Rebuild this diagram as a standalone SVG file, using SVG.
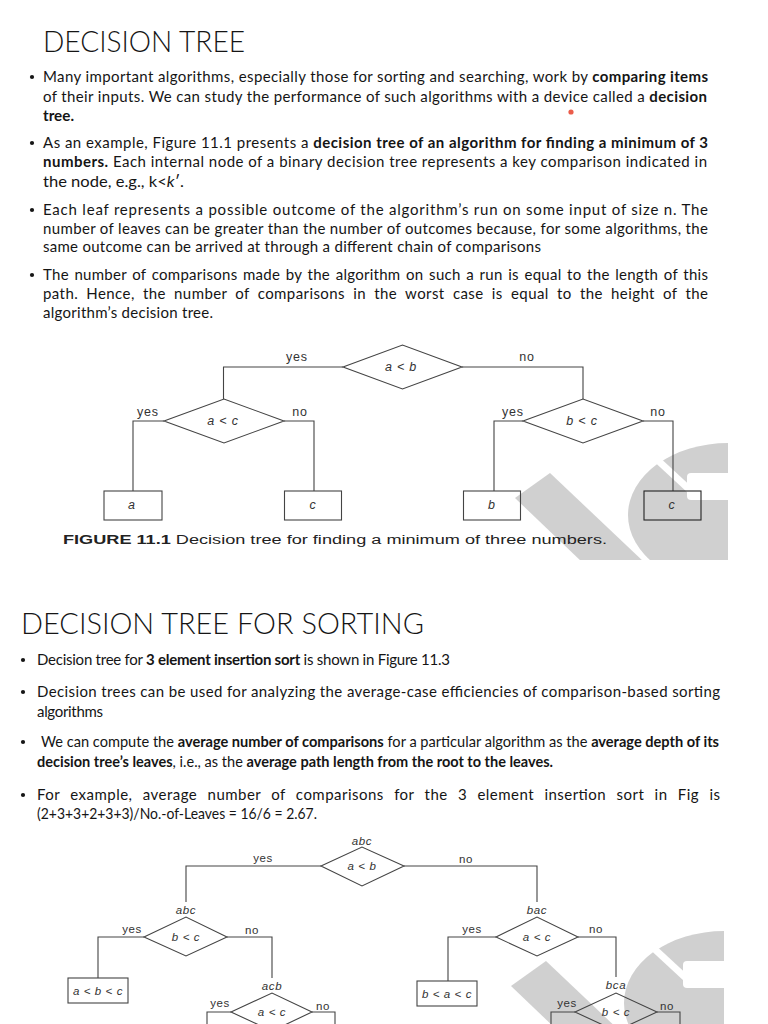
<svg xmlns="http://www.w3.org/2000/svg" width="768" height="1024" viewBox="0 0 768 1024">
<defs>
<style>
.t{font-family:Lato,"Open Sans","Liberation Sans",sans-serif;font-size:15px;fill:#151515}
.b{font-weight:700}
.h{font-family:Lato,"Open Sans","Liberation Sans",sans-serif;font-weight:300;font-size:30px;fill:#151515}
.f{font-family:"Liberation Sans",Arial,sans-serif;font-size:12.5px;fill:#333;letter-spacing:0.8px;text-anchor:middle}
.f2{font-family:"Liberation Sans",Arial,sans-serif;font-size:11.5px;fill:#333;letter-spacing:0.6px;text-anchor:middle}
.i{font-style:italic}
.ln{fill:none;stroke:#444;stroke-width:1.1}
.wm{fill:#d0d0d0}
.bul{fill:#151515}
.cap{font-family:"Liberation Sans",Arial,sans-serif;font-size:12px;fill:#222}
</style>
<clipPath id="c1"><rect x="0" y="340" width="728" height="220"/></clipPath>
<clipPath id="c2"><rect x="0" y="830" width="724" height="194"/></clipPath>
<g id="wmark">
<polygon class="wm" points="550,473 645,563 583,563 515,498"/>
<ellipse class="wm" cx="728" cy="515" rx="100" ry="72"/>
<line x1="652" y1="455" x2="692" y2="492" stroke="#fff" stroke-width="7"/>
<rect x="687" y="473" width="50" height="27" rx="4" fill="#fff"/>
</g>
</defs>
<rect width="768" height="1024" fill="#fff"/>

<!-- watermarks -->
<g clip-path="url(#c1)"><use href="#wmark"/></g>
<g clip-path="url(#c2)"><use href="#wmark" transform="translate(-4,488)"/></g>

<!-- Section 1 -->
<text class="h" x="43" y="52" textLength="202" lengthAdjust="spacingAndGlyphs">DECISION TREE</text>
<g id="text1">
<circle class="bul" cx="32" cy="77" r="2.1"/>
<text class="t" x="43" y="82" textLength="665" lengthAdjust="spacing">Many important algorithms, especially those for sorting and searching, work by <tspan class="b">comparing items</tspan></text>
<text class="t" x="43" y="102" textLength="664" lengthAdjust="spacing">of their inputs. We can study the performance of such algorithms with a device called a <tspan class="b">decision</tspan></text>
<text class="t b" x="43" y="121" textLength="31" lengthAdjust="spacingAndGlyphs">tree.</text>
<circle cx="571" cy="112" r="2.6" fill="#e8402a" opacity="0.85"/>
<circle class="bul" cx="32" cy="143" r="2.1"/>
<text class="t" x="43" y="148" textLength="665" lengthAdjust="spacing">As an example, Figure 11.1 presents a <tspan class="b">decision tree of an algorithm for finding a minimum of 3</tspan></text>
<text class="t" x="43" y="167" textLength="664" lengthAdjust="spacing"><tspan class="b">numbers.</tspan> Each internal node of a binary decision tree represents a key comparison indicated in</text>
<text class="t" x="43" y="187" textLength="141" lengthAdjust="spacingAndGlyphs">the node, e.g., k&lt;<tspan class="i">k</tspan>′.</text>
<circle class="bul" cx="32" cy="210" r="2.1"/>
<text class="t" x="43" y="215" textLength="665" lengthAdjust="spacing">Each leaf represents a possible outcome of the algorithm’s run on some input of size n. The</text>
<text class="t" x="43" y="234" textLength="665" lengthAdjust="spacing">number of leaves can be greater than the number of outcomes because, for some algorithms, the</text>
<text class="t" x="43" y="252" textLength="498" lengthAdjust="spacing">same outcome can be arrived at through a different chain of comparisons</text>
<circle class="bul" cx="32" cy="275" r="2.1"/>
<text class="t" x="43" y="280" textLength="665" lengthAdjust="spacing" word-spacing="1.5">The number of comparisons made by the algorithm on such a run is equal to the length of this</text>
<text class="t" x="43" y="299" textLength="665" lengthAdjust="spacing" word-spacing="4">path. Hence, the number of comparisons in the worst case is equal to the height of the</text>
<text class="t" x="43" y="318" textLength="170" lengthAdjust="spacing">algorithm’s decision tree.</text>
</g>

<!-- Figure 11.1 connectors -->
<g id="connectors1" class="ln">
<path d="M343,367 H223.5 V399"/>
<path d="M462,367 H583 V399"/>
<path d="M164,421 H133 V491"/>
<path d="M284,421 H314 V491"/>
<path d="M523,421 H494 V491"/>
<path d="M643,421 H673 V491"/>
</g>
<g id="f1-labels">
<text class="f" x="297" y="361">yes</text>
<text class="f" x="527" y="361">no</text>
<text class="f" x="148" y="416">yes</text>
<text class="f" x="300" y="416">no</text>
<text class="f" x="513" y="416">yes</text>
<text class="f" x="658" y="416">no</text>
</g>
<g id="f1-root"><polygon class="ln" points="343,367 402.5,345 462,367 402.5,389"/><text class="f i" x="401" y="371">a &lt; b</text></g>
<g id="f1-ac"><polygon class="ln" points="164,421 224,399 284,421 224,443"/><text class="f i" x="223" y="425">a &lt; c</text></g>
<g id="f1-bc"><polygon class="ln" points="523,421 583,399 643,421 583,443"/><text class="f i" x="582" y="425">b &lt; c</text></g>
<g id="f1-leaf-a"><rect class="ln" x="104" y="491" width="58" height="29"/><text class="f i" x="132" y="509">a</text></g>
<g id="f1-leaf-c1"><rect class="ln" x="284.5" y="491" width="57" height="29"/><text class="f i" x="313" y="509">c</text></g>
<g id="f1-leaf-b"><rect class="ln" x="463.5" y="491" width="57" height="29"/><text class="f i" x="492" y="509">b</text></g>
<g id="f1-leaf-c2"><rect class="ln" x="644" y="491" width="57" height="29" style="stroke:#222"/><text class="f i" x="672" y="509">c</text></g>
<text class="cap" x="63" y="544" textLength="544" lengthAdjust="spacingAndGlyphs"><tspan font-weight="700">FIGURE 11.1</tspan>  Decision tree for finding a minimum of three numbers.</text>

<!-- Section 2 -->
<text class="h" x="21" y="634" textLength="403" lengthAdjust="spacingAndGlyphs">DECISION TREE FOR SORTING</text>
<g id="text2">
<circle class="bul" cx="23" cy="660" r="2.1"/>
<text class="t" x="37" y="665" textLength="413" lengthAdjust="spacing">Decision tree for <tspan class="b">3 element insertion sort</tspan> is shown in Figure 11.3</text>
<circle class="bul" cx="23" cy="692" r="2.1"/>
<text class="t" x="37" y="697" textLength="683" lengthAdjust="spacing">Decision trees can be used for analyzing the average-case efficiencies of comparison-based sorting</text>
<text class="t" x="37" y="717" textLength="66" lengthAdjust="spacing">algorithms</text>
<circle class="bul" cx="23" cy="742" r="2.1"/>
<text class="t" x="41" y="747" textLength="678" lengthAdjust="spacingAndGlyphs">We can compute the <tspan class="b">average number of comparisons</tspan> for a particular algorithm as the <tspan class="b">average depth of its</tspan></text>
<text class="t" x="37" y="767" textLength="516" lengthAdjust="spacingAndGlyphs"><tspan class="b">decision tree’s leaves</tspan>, i.e., as the <tspan class="b">average path length from the root to the leaves.</tspan></text>
<circle class="bul" cx="23" cy="795" r="2.1"/>
<text class="t" x="37" y="800" textLength="683" lengthAdjust="spacing" word-spacing="6">For example, average number of comparisons for the 3 element insertion sort in Fig is</text>
<text class="t" x="37" y="819" textLength="280" lengthAdjust="spacingAndGlyphs">(2+3+3+2+3+3)/No.-of-Leaves = 16/6 = 2.67.</text>
</g>

<!-- Figure 11.3 connectors -->
<g id="connectors2" class="ln">
<path d="M321,866 H186 V902"/>
<path d="M404,866 H537 V902"/>
<path d="M144,937 H98 V978"/>
<path d="M227,937 H272 V978"/>
<path d="M496,937 H448 V981"/>
<path d="M578,937 H616 V977"/>
<path d="M231,1012 H207 V1030"/>
<path d="M312,1012 H335 V1030"/>
<path d="M575,1012 H551 V1030"/>
<path d="M657,1012 H680 V1030"/>
</g>
<g id="f2-labels">
<text class="f2" x="263" y="862">yes</text>
<text class="f2" x="466" y="863">no</text>
<text class="f2" x="132" y="933">yes</text>
<text class="f2" x="252" y="934">no</text>
<text class="f2" x="472" y="933">yes</text>
<text class="f2" x="596" y="933">no</text>
<text class="f2" x="220" y="1007">yes</text>
<text class="f2" x="323" y="1010">no</text>
<text class="f2" x="567" y="1007">yes</text>
<text class="f2" x="667" y="1010">no</text>
</g>
<g id="f2-root"><text class="f2 i" x="362" y="845">abc</text><polygon class="ln" points="321,866 362,847 404,866 362,886"/><text class="f2 i" x="362" y="870">a &lt; b</text></g>
<g id="f2-bc1"><text class="f2 i" x="186" y="914">abc</text><polygon class="ln" points="144,937 186,917 227,937 186,956"/><text class="f2 i" x="186" y="941">b &lt; c</text></g>
<g id="f2-ac2"><text class="f2 i" x="537" y="914">bac</text><polygon class="ln" points="496,937 537,917 578,937 537,956"/><text class="f2 i" x="537" y="941">a &lt; c</text></g>
<g id="f2-leaf-abc"><rect class="ln" x="68" y="978" width="60" height="25"/><text class="f2 i" x="98" y="995">a &lt; b &lt; c</text></g>
<g id="f2-leaf-bac"><rect class="ln" x="417" y="981" width="60" height="25"/><text class="f2 i" x="447" y="998">b &lt; a &lt; c</text></g>
<g id="f2-acb"><text class="f2 i" x="272" y="990">acb</text><polygon class="ln" points="231,1012 272,993 312,1012 272,1031"/><text class="f2 i" x="272" y="1016">a &lt; c</text></g>
<g id="f2-bca"><text class="f2 i" x="616" y="989">bca</text><polygon class="ln" points="575,1012 616,993 657,1012 616,1031"/><text class="f2 i" x="616" y="1016">b &lt; c</text></g>
</svg>
